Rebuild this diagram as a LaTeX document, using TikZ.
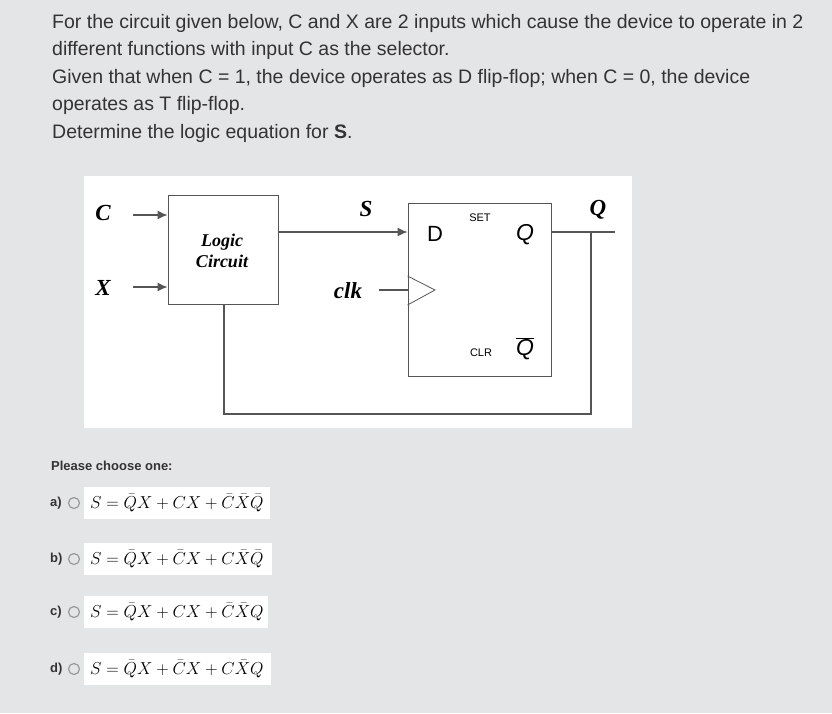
\documentclass[tikz,border=0pt]{standalone}
\usepackage{fontspec}
\setmainfont{Liberation Sans}
\newfontfamily\serifit{Liberation Serif}
\usetikzlibrary{arrows.meta}
\definecolor{bg}{HTML}{E4E5E6}
\definecolor{txt}{HTML}{333333}
\definecolor{wire}{HTML}{555555}
\begin{document}
\begin{tikzpicture}[x=1pt,y=-1pt,
  wirestyle/.style={draw=wire,line width=1.2pt},
  arr/.style={wirestyle,-{Latex[length=10pt,width=9pt]}},
  sig/.style={font=\serifit\bfseries\itshape\fontsize{23}{23}\selectfont},
  q/.style={anchor=west,font=\fontsize{19.5}{22}\selectfont,text=txt,inner sep=0},
  optlab/.style={font=\bfseries\fontsize{13}{13}\selectfont,text=txt,anchor=west,inner sep=0},
  radio/.style={circle,draw=gray!80,line width=1.2pt,minimum size=11pt,inner sep=0},
  eq/.style={anchor=west,font=\fontsize{17}{17}\selectfont,inner sep=0}]
\fill[bg] (0,0) rectangle (832,713);
\useasboundingbox (0,0) rectangle (832,713);
\node[q] at (52,23) {For the circuit given below, C and X are 2 inputs which cause the device to operate in 2};
\node[q] at (52,50) {different functions with input C as the selector.};
\node[q] at (52,78) {Given that when C = 1, the device operates as D flip-flop; when C = 0, the device};
\node[q] at (52,105) {operates as T flip-flop.};
\node[q] at (52,133) {Determine the logic equation for \textbf{S}.};
% circuit
\fill[white] (84,176) rectangle (632,428);
\node[draw=wire,line width=1pt,minimum width=110pt,minimum height=109pt,inner sep=0] (lc) at (223,250) {};
\node[font=\serifit\bfseries\itshape\fontsize{18}{21}\selectfont,align=center] at (222,251) {Logic\\Circuit};
\node[draw=wire,line width=1pt,minimum width=143pt,minimum height=173pt,inner sep=0] (ff) at (479.5,289.5) {};
\node[sig] (C) at (103,213) {C};
\node[sig] (X) at (103,288) {X};
\node[sig] (S) at (366,209) {S};
\node[sig] (clk) at (348,291) {clk};
\node[sig] (Qo) at (598,210) {Q};
\coordinate (cin) at (lc.west |- 0,215);
\coordinate (xin) at (lc.west |- 0,287);
\draw[arr] (133,215) -- (cin);
\draw[arr] (133,287) -- (xin);
\coordinate (din) at (ff.west |- 0,232);
\draw[arr] (lc.east |- 0,232) -- (din);
\draw[wirestyle] (379,290) -- (ff.west |- 0,290);
\draw[wire,line width=0.8pt] (ff.west |- 0,276) -- (435,290) -- (ff.west |- 0,305);
\node[font=\fontsize{22}{22}\selectfont] at (435,234) {D};
\node[font=\fontsize{11}{11}\selectfont] at (480,218) {SET};
\node[font=\fontsize{11}{11}\selectfont] at (481,353) {CLR};
\node[font=\itshape\fontsize{23}{23}\selectfont] (qq) at (525,235) {Q};
\node[font=\itshape\fontsize{23}{23}\selectfont] (qb) at (525,349) {$\overline{\mbox{\itshape Q}}$};
\coordinate (qend) at (615,232);
\coordinate (fb) at (591,232);
\draw[wirestyle] (ff.east |- 0,232) -- (qend);
\draw[wirestyle] (fb) -- (591,414) -- (224,414) -- (lc.south -| 224,0);
% options
\node[font=\bfseries\fontsize{13}{13}\selectfont,text=txt,anchor=west,inner sep=0] at (51,466) {Please choose one:};
\foreach \l/\y/\w/\e in {a/503/270/{S=\bar{Q}X+CX+\bar{C}\bar{X}\bar{Q}},
  b/559/272/{S=\bar{Q}X+\bar{C}X+C\bar{X}\bar{Q}},
  c/612/268/{S=\bar{Q}X+CX+\bar{C}\bar{X}Q},
  d/669/271/{S=\bar{Q}X+\bar{C}X+C\bar{X}Q}}{
  \fill[white] (84,\y-16) rectangle (\w,\y+16);
  \node[optlab] at (50,\y) {\l)};
  \node[radio] at (74,\y) {};
  \node[eq] at (90,\y) {$\e$};
}
\end{tikzpicture}
\end{document}
